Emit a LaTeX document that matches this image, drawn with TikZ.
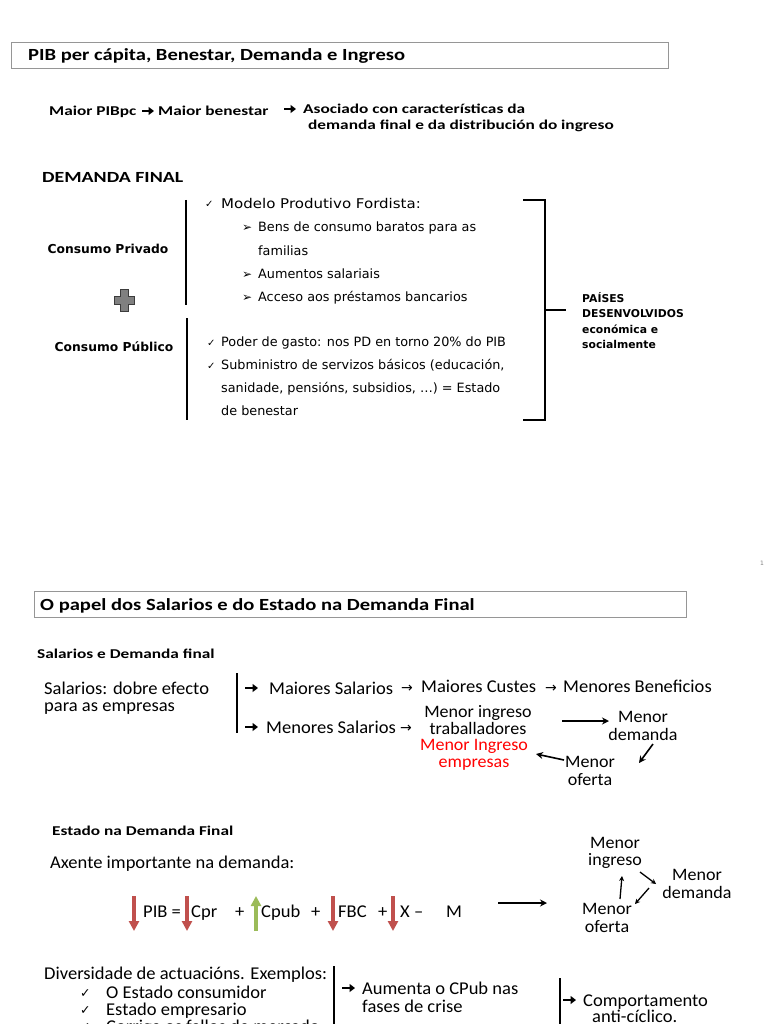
\documentclass[tikz,border=0pt]{standalone}
\usepackage{fontspec}
\setmainfont{Carlito}
\newfontfamily\verd{DejaVu Sans}
\newfontfamily\verdw[FakeStretch=1.12]{DejaVu Sans}
\newfontfamily\ttlf[FakeStretch=1.21]{Carlito}
\newfontfamily\hdf[FakeStretch=1.28]{Carlito}
\newfontfamily\bdf[FakeStretch=1.03]{Carlito}
\usetikzlibrary{arrows.meta}
\definecolor{hdr}{RGB}{150,150,150}
\definecolor{arrred}{RGB}{192,80,77}
\definecolor{arrgreen}{RGB}{155,187,89}
\definecolor{txtred}{RGB}{255,0,0}
\definecolor{plusfill}{RGB}{128,128,128}
\definecolor{plusline}{RGB}{60,60,60}
\begin{document}
\begin{tikzpicture}[x=1pt,y=-1pt,
  t/.style={inner sep=0pt, anchor=base west},
  hbox/.style={draw=hdr, line width=0.9pt},
  bar/.style={line width=2pt},
  blk/.style={-{Stealth[length=7pt,width=7pt]}, line width=1.6pt},
  sml/.style={-{Stealth[length=5pt,width=5pt]}, line width=1.3pt},
  harr/.style={-{Triangle[length=5.5pt,width=8pt]}, line width=2.4pt},
  redarr/.style={arrred, line width=4pt, -{Triangle[length=10pt,width=10pt]}},
  grnarr/.style={arrgreen, line width=4pt, -{Triangle[length=10pt,width=10pt]}},
  ttl/.style={font=\ttlf\bfseries\fontsize{17}{19}\selectfont},
  hd/.style={font=\hdf\bfseries\fontsize{13.5}{15}\selectfont},
  lst/.style={t, font=\verd\fontsize{12.8}{14}\selectfont},
  chk/.style={t, font=\verd\fontsize{10}{11}\selectfont},
  bul/.style={t, font=\verd\fontsize{12}{12}\selectfont},
  bd/.style={font=\bdf\fontsize{18}{18}\selectfont},
  cyc/.style={align=center, inner sep=0pt, font=\bdf\fontsize{17.5}{17.5}\selectfont},
  thin/.style={font=\verd\fontsize{14}{14}\selectfont}
]
\clip (0,0) rectangle (768,1024);
\fill[white] (0,0) rectangle (768,1024);

% ================= Slide 1 =================
\draw[hbox] (11,42) rectangle (668,68);
\node[t, ttl] (h1) at (28,61) {PIB per cápita, Benestar, Demanda e Ingreso};

\node[t, hd] (m1a) at (49,116) {Maior PIBpc};
\coordinate (ha1) at (142,111);
\coordinate (hb1) at (154,111);
\draw[harr] (ha1) -- (hb1);
\node[t, hd] (m1b) at (158,116) {Maior benestar};
\coordinate (ha2) at (284,109);
\coordinate (hb2) at (296,109);
\draw[harr] (ha2) -- (hb2);
\node[t, hd] (m2) at (303,114) {Asociado con características da};
\node[t, hd] (m3) at (308,130) {demanda final e da distribución do ingreso};

\node[t, font=\hdf\bfseries\fontsize{15.5}{18}\selectfont] (df) at (42,183) {DEMANDA FINAL};

\node[inner sep=0pt, anchor=base, font=\verd\bfseries\fontsize{12.3}{13}\selectfont] (cpr) at (108,253) {Consumo Privado};
\node[inner sep=0pt, anchor=base, font=\verd\bfseries\fontsize{12.3}{13}\selectfont] (cpu) at (114,351) {Consumo Público};

\draw[bar] (186,200) -- (186,305);
\draw[bar] (187,318) -- (187,420);

\filldraw[fill=plusfill, draw=plusline, line width=1pt]
  (120,289) -- (128,289) -- (128,296) -- (134,296) -- (134,304) -- (128,304) -- (128,311)
  -- (120,311) -- (120,304) -- (114,304) -- (114,296) -- (120,296) -- cycle;

\node[chk] (c1) at (205,208) {✓};
\node[t, font=\verdw\fontsize{13.4}{15}\selectfont] (l1) at (221,208.5) {Modelo Produtivo Fordista:};
\node[bul] (b1) at (242,232) {➢};
\node[lst] (l2) at (258,232) {Bens de consumo baratos para as};
\node[lst] (l3) at (258,255) {familias};
\node[bul] (b2) at (242,278) {➢};
\node[lst] (l4) at (258,278) {Aumentos salariais};
\node[bul] (b3) at (242,301) {➢};
\node[lst] (l5) at (258,301) {Acceso aos préstamos bancarios};

\node[chk] (c2) at (207,346) {✓};
\node[lst] (l6) at (221,346) {Poder de gasto: nos PD en torno 20\% do PIB};
\node[chk] (c3) at (207,369) {✓};
\node[lst] (l7) at (221,369) {Subministro de servizos básicos (educación,};
\node[lst] (l8) at (221,392) {sanidade, pensións, subsidios, …) = Estado};
\node[lst] (l9) at (221,415) {de benestar};

\draw[bar] (523,200) -- (545,200) -- (545,420) -- (523,420);
\draw[bar] (545,310) -- (566,310);
\node[anchor=north west, inner sep=0pt, align=left, font=\verd\bfseries\fontsize{10.8}{15.4}\selectfont] (pd) at (582,292)
  {PAÍSES\\DESENVOLVIDOS\\económica e\\socialmente};

\node[t, font=\verd\fontsize{6}{7}\selectfont, text=gray] (pg) at (760,565) {1};

% ================= Slide 2 =================
\draw[hbox] (34,591) rectangle (686,617);
\node[t, ttl] (h2) at (40,610) {O papel dos Salarios e do Estado na Demanda Final};

\node[t, hd] (s1) at (37,658) {Salarios e Demanda final};

\node[t, bd] (sd1) at (44,694) {Salarios: dobre efecto};
\node[t, bd] (sd2) at (44,711) {para as empresas};
\draw[bar] (237,673) -- (237,733);

\coordinate (ha3) at (245,688);
\coordinate (hb3) at (258,688);
\draw[harr] (ha3) -- (hb3);
\node[t, bd] (ms) at (269,694) {Maiores Salarios};
\node[t, thin] (ta1) at (401,692) {→};
\node[t, bd] (mc) at (421,692) {Maiores Custes};
\node[t, thin] (ta2) at (545,692) {→};
\node[t, bd] (mb) at (563,692) {Menores Beneficios};

\coordinate (ha4) at (245,727);
\coordinate (hb4) at (258,727);
\draw[harr] (ha4) -- (hb4);
\node[t, bd] (mns) at (266,733) {Menores Salarios};
\node[t, thin] (ta3) at (400,732) {→};

\node[cyc] (ingr) at (478,720) {Menor ingreso\\traballadores};
\node[cyc, text=txtred] (ingemp) at (474,755) {Menor Ingreso\\empresas};
\node[cyc] (dem) at (643,726) {Menor\\demanda};
\node[cyc] (ofe) at (590,771) {Menor\\oferta};

\coordinate (f1) at (562,721);
\coordinate (f2) at (609,721);
\coordinate (f3) at (653,744);
\coordinate (f4) at (639,763);
\coordinate (f5) at (564,760);
\coordinate (f6) at (536,754);
\draw[blk] (f1) -- (f2);
\draw[blk] (f3) -- (f4);
\draw[blk] (f5) -- (f6);

\node[t, hd] (s2) at (52,835) {Estado na Demanda Final};
\node[t, bd] (ax) at (50,868) {Axente importante na demanda:};

\node[t, bd] (pib) at (143,917) {PIB =};
\node[t, bd] (cpr2) at (191,917) {Cpr};
\node[t, bd] (p1) at (235,917) {+};
\node[t, bd] (cpub) at (261,917) {Cpub};
\node[t, bd] (p2) at (311,917) {+};
\node[t, bd] (fbc) at (338,917) {FBC};
\node[t, bd] (p3) at (378,917) {+};
\node[t, bd] (xx) at (400,917) {X –};
\node[t, bd] (mm) at (446,917) {M};

\draw[redarr] (134,896) -- (134,931);
\draw[redarr] (187,896) -- (187,931);
\draw[grnarr] (256,931) -- (256,896);
\draw[redarr] (333,896) -- (333,931);
\draw[redarr] (393,896) -- (393,931);

\coordinate (eqs) at (498,903);
\coordinate (eqe) at (547,903);
\draw[blk] (eqs) -- (eqe);

\node[cyc] (ci) at (615,853) {Menor\\ingreso};
\node[cyc] (cd) at (697,884) {Menor\\demanda};
\node[cyc] (co) at (607,918) {Menor\\oferta};
\coordinate (g1) at (640,872);
\coordinate (g2) at (656,884);
\coordinate (g3) at (649,888);
\coordinate (g4) at (635,904);
\coordinate (g5) at (620,899);
\coordinate (g6) at (622,876);
\draw[sml] (g1) -- (g2);
\draw[sml] (g3) -- (g4);
\draw[sml] (g5) -- (g6);

\node[t, bd] (dv) at (44,979) {Diversidade de actuacións. Exemplos:};
\node[t, font=\verd\fontsize{12.5}{13}\selectfont] (k1) at (80,997) {✓};
\node[t, bd] (e1) at (106,998) {O Estado consumidor};
\node[t, font=\verd\fontsize{12.5}{13}\selectfont] (k2) at (80,1014) {✓};
\node[t, bd] (e2) at (106,1015) {Estado empresario};
\node[t, font=\verd\fontsize{12.5}{13}\selectfont] (k3) at (80,1031) {✓};
\node[t, bd] (e3) at (106,1032) {Corrige os fallos de mercado};
\draw[line width=1.3pt] (334,966) -- (334,1024);
\coordinate (ha5) at (342,988);
\coordinate (hb5) at (355,988);
\draw[harr] (ha5) -- (hb5);
\node[t, bd] (au1) at (362,994) {Aumenta o CPub nas};
\node[t, bd] (au2) at (362,1012) {fases de crise};
\draw[line width=1.3pt] (560,978) -- (560,1024);
\coordinate (ha6) at (563,1000);
\coordinate (hb6) at (576,1000);
\draw[harr] (ha6) -- (hb6);
\node[t, bd] (cp1) at (583,1006) {Comportamento};
\node[t, bd] (cp2) at (592,1022) {anti-cíclico.};
\end{tikzpicture}
\end{document}
